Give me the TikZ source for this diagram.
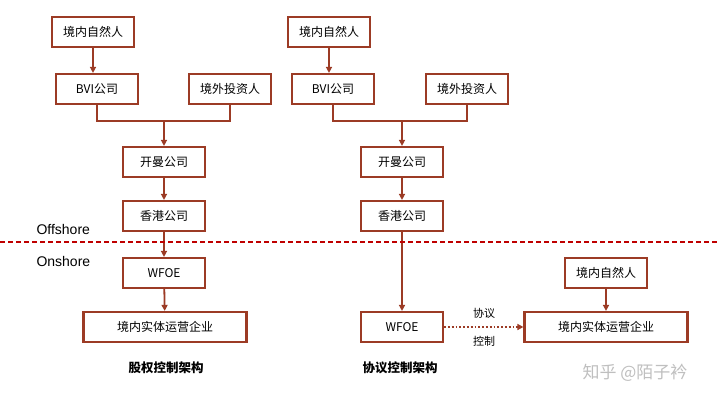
\documentclass[tikz,border=0pt]{standalone}
\usepackage{fontspec}
\setmainfont{Liberation Sans}
\newfontfamily\cjk{Noto Sans CJK SC}
\usetikzlibrary{arrows.meta}
\definecolor{br}{HTML}{9C3B25}
\begin{document}
\begin{tikzpicture}[x=1pt,y=-1pt,
  bx/.style={draw=br,line width=2.2pt,minimum width=82pt,minimum height=30pt,font=\cjk\fontsize{12}{14}\selectfont,inner sep=2pt},
  wbx/.style={bx,minimum width=163pt},
  ar/.style={draw=br,line width=1.8pt,-{Triangle[length=6pt,width=6pt]}},
  ln/.style={draw=br,line width=1.8pt},
  lab/.style={font=\cjk\fontsize{12.5}{14}\selectfont\bfseries}]
\useasboundingbox (0,0) rectangle (720,404);
\fill[white] (0,0) rectangle (720,404);
% left
\node[bx] (a1) at (93,32) {境内自然人};
\node[bx] (a2) at (97,89) {BVI公司};
\node[bx] (a3) at (230,89) {境外投资人};
\node[bx] (a4) at (164,162) {开曼公司};
\node[bx] (a5) at (164,216) {香港公司};
\node[bx] (a6) at (164,273) {WFOE};
\node[wbx] (a7) at (165,327) {境内实体运营企业};
\coordinate (aj) at (164,121);
\draw[ar] (a1.south) -- (a1.south |- a2.north);
\draw[ln] (a2.south) |- (aj) -| (a3.south);
\draw[ar] (aj) -- (a4);
\draw[ar] (a4) -- (a5);
\draw[ar] (a5) -- (a6);
\draw[ar] (a6) -- (a7);
\node[lab] (t1) at (166,368) {股权控制架构};
% right
\node[bx] (b1) at (329,32) {境内自然人};
\node[bx] (b2) at (333,89) {BVI公司};
\node[bx] (b3) at (467,89) {境外投资人};
\node[bx] (b4) at (402,162) {开曼公司};
\node[bx] (b5) at (402,216) {香港公司};
\node[bx] (b6) at (402,327) {WFOE};
\node[wbx] (b7) at (606,327) {境内实体运营企业};
\node[bx] (b8) at (606,273) {境内自然人};
\coordinate (bj) at (402,121);
\draw[ar] (b1.south) -- (b1.south |- b2.north);
\draw[ln] (b2.south) |- (bj) -| (b3.south);
\draw[ar] (bj) -- (b4);
\draw[ar] (b4) -- (b5);
\draw[ar] (b5) -- (b6);
\draw[ar] (b8) -- (b7);
\draw[ar,dotted,line width=2.2pt] (b6) -- (b7);
\node[font=\cjk\fontsize{11}{13}\selectfont] (p1) at (484,313) {协议};
\node[font=\cjk\fontsize{11}{13}\selectfont] (p2) at (484,341) {控制};
\node[lab] (t2) at (400,368) {协议控制架构};
% divider
\coordinate (d1) at (0,242);
\coordinate (d2) at (720,242);
\draw[red!75!black,dash pattern=on 5pt off 3pt,line width=1.2pt] (d1) -- (d2);
\node[font=\fontsize{14}{16}\selectfont,anchor=west] (off) at (33,229) {Offshore};
\node[font=\fontsize{14}{16}\selectfont,anchor=west] (on) at (33,261) {Onshore};
\node[font=\cjk\fontsize{17}{19}\selectfont,text=gray!50] (wm) at (635,373) {知乎 @陌子衿};
\end{tikzpicture}
\end{document}
